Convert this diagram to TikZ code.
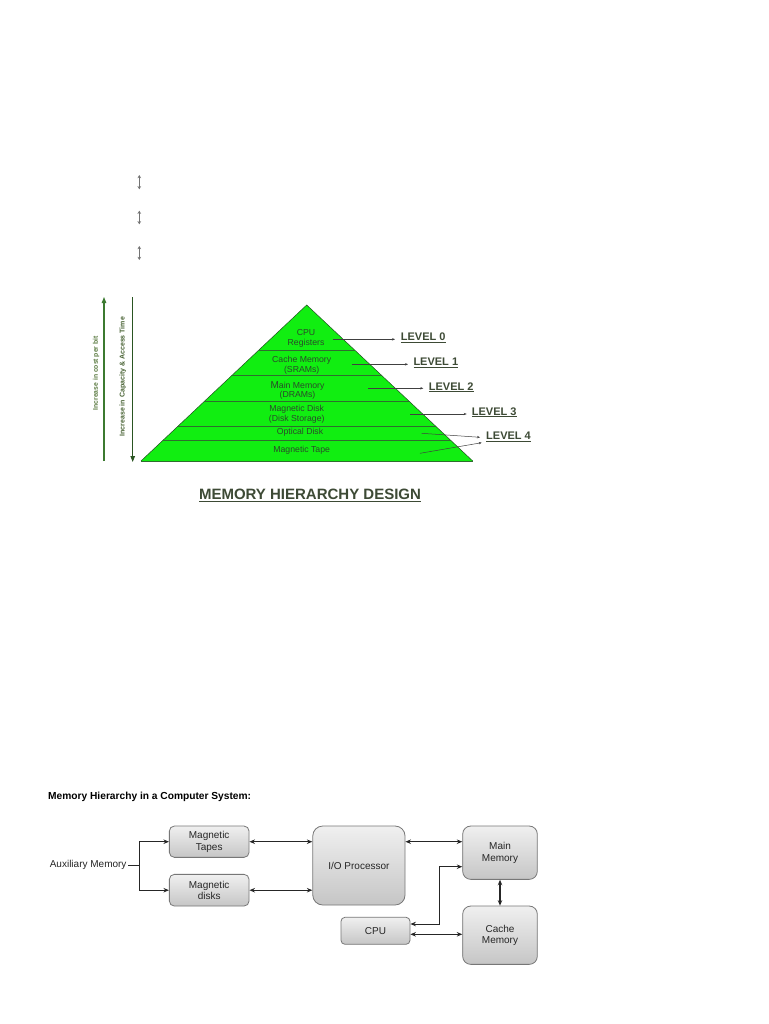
\documentclass[tikz,border=0pt]{standalone}
\usepackage{fontspec}
\setmainfont{Liberation Sans}
\usetikzlibrary{arrows.meta,calc}
\definecolor{pgreen}{HTML}{11EE11}
\definecolor{pline}{HTML}{2E6E2E}
\definecolor{ptext}{HTML}{2A4A2A}
\definecolor{lvl}{HTML}{3D4A35}
\definecolor{garrow}{HTML}{3C7A30}
\definecolor{gtext}{HTML}{5A7A40}
\definecolor{boxedge}{HTML}{777777}
\tikzset{
  ptxt/.style={font=\fontsize{8.7}{9.6}\selectfont, text=ptext, align=center, inner sep=0pt},
  lvllab/.style={font=\fontsize{11}{12}\selectfont\bfseries, text=lvl, anchor=west, inner sep=0pt},
  lvlarrow/.style={draw=black!75, line width=0.5pt, -{Stealth[length=3pt,width=2.4pt]}},
  gbox/.style={draw=boxedge, line width=0.8pt, top color=gray!12, bottom color=gray!45, rounded corners=6pt, align=center, font=\fontsize{10}{11.5}\selectfont, text=black!85, inner sep=0pt},
  conn/.style={draw=black!85, line width=1pt, {Stealth[length=5.5pt,width=4.5pt]}-{Stealth[length=5.5pt,width=4.5pt]}},
  conn1/.style={draw=black!85, line width=1pt, -{Stealth[length=5.5pt,width=4.5pt]}},
  smallarr/.style={draw=black!55, line width=0.9pt, {Stealth[length=3.2pt,width=3.6pt]}-{Stealth[length=3.2pt,width=3.6pt]}},
}
\begin{document}
\begin{tikzpicture}[x=1pt,y=-1pt]
\useasboundingbox[fill=white] (0,0) rectangle (768,1024);

% small double arrows
\coordinate (s1a) at (139.3,175); \coordinate (s1b) at (139.3,189.3);
\coordinate (s2a) at (139.3,210.7); \coordinate (s2b) at (139.3,224.3);
\coordinate (s3a) at (139.3,246); \coordinate (s3b) at (139.3,260);
\draw[smallarr] (s1a) -- (s1b);
\draw[smallarr] (s2a) -- (s2b);
\draw[smallarr] (s3a) -- (s3b);

% pyramid
\coordinate (apex) at (306.7,305);
\coordinate (bl) at (141,461);
\coordinate (br) at (472.7,461);
\fill[pgreen] (apex) -- (bl) -- (br) -- cycle;
\draw[pline!70!black, line width=0.5pt] (bl) -- (apex) -- (br);
\draw[pline, line width=0.9pt] (bl) -- (br);
\foreach \t in {0.2904,0.4532,0.6199,0.7801,0.8699}{
  \draw[pline, line width=0.8pt] ($(apex)!\t!(bl)$) -- ($(apex)!\t!(br)$);
}

\node[ptxt] (t0) at (306,338.5) {CPU\\Registers};
\node[ptxt] (t1) at (301.7,365) {Cache Memory\\(SRAMs)};
\node[ptxt] (t2) at (297.5,390.5) {\fontsize{10}{10}\selectfont M\fontsize{8.7}{9.6}\selectfont ain Memory\\(DRAMs)};
\node[ptxt] (t3) at (296.7,414.5) {Magnetic Disk\\(Disk Storage)};
\node[ptxt] (t4) at (300,432.7) {Optical Disk};
\node[ptxt] (t5) at (301.7,450.7) {Magnetic Tape};

% level labels
\node[lvllab] (L0) at (400.7,337.5) {\underline{LEVEL 0}};
\node[lvllab] (L1) at (413.3,362.8) {\underline{LEVEL 1}};
\node[lvllab] (L2) at (428.7,387.3) {\underline{LEVEL 2}};
\node[lvllab] (L3) at (471.7,412.3) {\underline{LEVEL 3}};
\node[lvllab] (L4) at (486,436.7) {\underline{LEVEL 4}};

\coordinate (a0) at (333,339.3);
\coordinate (a1) at (351.7,364.3);
\coordinate (a2) at (368.3,388.3);
\coordinate (a3) at (410,414);
\coordinate (a4) at (421.7,433.3);
\coordinate (a5) at (420,453.3);
\coordinate (e0) at (395,339.3);
\coordinate (e1) at (408,364.3);
\coordinate (e2) at (423.3,388.3);
\coordinate (e3) at (466.7,414);
\coordinate (e4) at (480,437.3);
\coordinate (e5) at (481.7,442.7);
\draw[lvlarrow] (a0) -- (e0);
\draw[lvlarrow] (a1) -- (e1);
\draw[lvlarrow] (a2) -- (e2);
\draw[lvlarrow] (a3) -- (e3);
\draw[lvlarrow] (a4) -- (e4);
\draw[lvlarrow] (a5) -- (e5);

% side arrows
\coordinate (g1a) at (104,461); \coordinate (g1b) at (104,297);
\coordinate (g2a) at (132.7,297); \coordinate (g2b) at (132.7,462);
\draw[garrow, line width=1.1pt, -{Triangle[length=6pt,width=4.5pt]}] (g1a) -- (g1b);
\draw[garrow!70!black, line width=1.1pt, -{Triangle[length=6pt,width=4.5pt]}] (g2a) -- (g2b);
\node[rotate=90, font=\fontsize{6.8}{8}\selectfont\bfseries, text=gtext, inner sep=0pt] (lc) at (96,373.3) {Increase in cost per bit};
\node[rotate=90, font=\fontsize{7}{8}\selectfont\bfseries, text=gtext!80!black, inner sep=0pt] (lcap) at (122.7,376.7) {Increase in Capacity \& Access Time};

\node[font=\fontsize{15}{16}\selectfont\bfseries, text=lvl, inner sep=0pt] (title1) at (310,495) {\underline{MEMORY HIERARCHY DESIGN}};

% bottom diagram
\node[font=\fontsize{10.2}{11}\selectfont\bfseries, anchor=west, inner sep=0pt] (title2) at (48,796.7) {Memory Hierarchy in a Computer System:};

\node[gbox, minimum width=79.7pt, minimum height=31.3pt, rounded corners=5pt] (tapes) at (209.2,841.7) {Magnetic\\Tapes};
\node[gbox, minimum width=79.7pt, minimum height=31.7pt, rounded corners=5pt] (disks) at (209.2,890.2) {Magnetic\\disks};
\node[gbox, minimum width=92.3pt, minimum height=79pt, rounded corners=10pt] (io) at (358.9,865.5) {I/O Processor};
\node[gbox, minimum width=74.6pt, minimum height=53.3pt, rounded corners=8pt] (main) at (500,852.7) {Main\\Memory};
\node[gbox, minimum width=74.6pt, minimum height=58.3pt, rounded corners=8pt] (cache) at (500,935.2) {Cache\\Memory};
\node[gbox, minimum width=69pt, minimum height=27pt, rounded corners=4pt] (cpu) at (375.5,930.8) {CPU};

\node[font=\fontsize{10}{11}\selectfont, text=black!85, anchor=east, inner sep=0pt] (aux) at (126.7,865) {Auxiliary Memory};

\coordinate (j0) at ([xshift=1.5pt]aux.east);
\coordinate (j) at ([xshift=12.5pt]aux.east);
\draw[conn1] (j0) -- (j) |- (tapes.west);
\draw[conn1] (j) |- (disks.west);
\draw[conn] (tapes.east) -- (io.west |- tapes.east);
\draw[conn] (disks.east) -- (io.west |- disks.east);
\draw[conn] (io.east |- tapes.east) -- (main.west |- tapes.east);
\draw[conn, line width=1.6pt] (main.south) -- (cache.north);
\coordinate (c1) at ([yshift=-3.5pt]cpu.east);
\draw[conn] (c1) -- (cache.west |- c1);
\coordinate (c2) at ([yshift=6.8pt]cpu.east);
\coordinate (m2) at ([yshift=-14pt]main.west);
\coordinate (bend) at (439.3,924);
\draw[conn] (c2) -- (bend) |- (m2);
\end{tikzpicture}
\end{document}
